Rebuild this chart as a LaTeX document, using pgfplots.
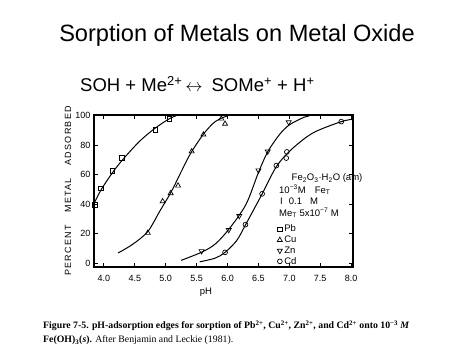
\documentclass[border=0pt]{standalone}
\usepackage{pgfplots}
\pgfplotsset{compat=1.18}
\usepackage{fontspec}
\setmainfont{Liberation Sans}
\newfontfamily\timesf{Liberation Serif}
\begin{document}
\begin{tikzpicture}[x=1pt,y=1pt]
\path[use as bounding box] (0pt,0pt) rectangle (474pt,355pt);
\node[anchor=base] at (237pt,313.5pt) {\fontsize{23.6}{26}\selectfont Sorption of Metals on Metal Oxide};
\node[anchor=base west, inner sep=0pt] at (80pt,263.5pt) {\fontsize{18.5}{22}\selectfont SOH + Me\textsuperscript{2+}\hspace{3pt}$\leftrightarrow$\hspace{9pt}SOMe\textsuperscript{+} + H\textsuperscript{+}};
\begin{axis}[
  at={(94pt,88pt)}, anchor=south west, scale only axis,
  width=259pt, height=152pt,
  xmin=3.84, xmax=8.03, ymin=-2.5, ymax=100.5,
  xtick={4.0,4.5,5.0,5.5,6.0,6.5,7.0,7.5,8.0},
  ytick={0,20,40,60,80,100},
  tick align=inside, major tick length=4pt,
  axis line style={line width=1.1pt},
  every tick/.style={line width=0.9pt, black},
  /pgf/number format/assume math mode=true,
  xticklabel style={yshift=-5pt, /pgf/number format/.cd, fixed, fixed zerofill, precision=1},
  tick label style={font=\fontsize{9}{10}\selectfont},
  xlabel={pH},
  xlabel style={at={(axis description cs:0.432,0)}, anchor=north, yshift=-17pt, font=\fontsize{9.5}{10}\selectfont},
  ylabel={\addfontfeature{LetterSpace=14}PERCENT\quad\ METAL\quad\ ADSORBED},
  ylabel style={at={(axis description cs:-0.100,0.5)}, anchor=center, font=\fontsize{9}{10}\selectfont},
  legend style={at={(axis description cs:0.707,0.29)}, anchor=north west, draw=none, fill=none,
    font=\fontsize{9.5}{10}\selectfont, inner sep=0pt, row sep=-1.5pt},
  legend cell align=left,
  legend image code/.code={\draw[#1] plot coordinates {(0.1cm,0cm)};},
]
% fitted curves
\addplot[smooth, line width=1pt, forget plot] coordinates {
 (3.84,40.5) (3.95,49.5) (4.14,61.5) (4.31,70.5) (4.58,82.8) (4.83,91.6) (5.06,98.0) (5.17,100)};
\addplot[smooth, line width=1pt, forget plot] coordinates {
 (4.23,7) (4.47,13) (4.71,21.5) (4.90,35) (5.09,48.5) (5.25,62) (5.41,75) (5.62,88) (5.80,96) (6.0,100)};
\addplot[smooth, line width=1pt, forget plot] coordinates {
 (5.25,2) (5.58,7.5) (5.80,13) (6.03,23.5) (6.30,40) (6.50,61.5) (6.65,75.5) (6.84,87.2) (7.0,93.8) (7.24,99) (7.32,99.7)};
\addplot[smooth, line width=1pt, forget plot] coordinates {
 (5.55,1) (5.80,3.5) (5.96,7.4) (6.15,15.5) (6.29,26) (6.56,47) (6.79,65.5) (7.03,77) (7.38,88.3) (7.84,96) (8.03,97.6)};
% data
\addplot[only marks, mark=square, mark size=2.3pt, line width=0.7pt] coordinates {
 (3.85,39.8) (3.95,50.8) (4.14,62.5) (4.29,71.5) (4.83,90.5) (5.06,97.8)};
\addlegendentry{Pb}
\addplot[only marks, mark=triangle, mark size=2.9pt, line width=0.7pt] coordinates {
 (4.71,20.6) (4.95,42) (5.08,47.5) (5.20,52.6) (5.42,75.8) (5.61,87.2) (5.90,98) (5.96,94.5)};
\addlegendentry{Cu}
\addplot[only marks, mark=triangle, mark options={rotate=180}, mark size=2.9pt, line width=0.7pt] coordinates {
 (5.58,8.3) (6.02,22.6) (6.19,32.1) (6.50,63) (6.65,75.8) (6.99,95.6)};
\addlegendentry{Zn}
\addplot[only marks, mark=o, mark size=2.4pt, line width=0.7pt] coordinates {
 (5.96,7.4) (6.29,26.2) (6.56,47.1) (6.79,66.2) (6.95,71.3) (6.96,75.5) (7.84,96)};
\addlegendentry{Cd}
\end{axis}
\begin{scope}[every node/.style={anchor=base west, inner sep=0pt, font=\fontsize{9.5}{10}\selectfont}]
\node at (291.5pt,174pt) {Fe\textsubscript{2}O\textsubscript{3}·H\textsubscript{2}O (am)};
\node at (279pt,161.5pt) {10\textsuperscript{−3}M\hspace{9pt}Fe\textsubscript{T}};
\node at (280pt,150.5pt) {I\hspace{6pt}0.1\hspace{8pt}M};
\node at (279pt,138.5pt) {Me\textsubscript{T} 5x10\textsuperscript{−7} M};
\end{scope}
\node[anchor=base west, inner sep=0pt] at (43pt,26pt) {\timesf\bfseries\fontsize{9.8}{12}\selectfont Figure 7-5. pH-adsorption edges for sorption of Pb\textsuperscript{2+}, Cu\textsuperscript{2+}, Zn\textsuperscript{2+}, and Cd\textsuperscript{2+} onto 10\textsuperscript{−3} \textit{M}};
\node[anchor=base west, inner sep=0pt] at (43pt,12pt) {\timesf\fontsize{9.8}{12}\selectfont\textbf{Fe(OH)\textsubscript{3}(\textit{s}).} After Benjamin and Leckie (1981).};
\end{tikzpicture}
\end{document}
